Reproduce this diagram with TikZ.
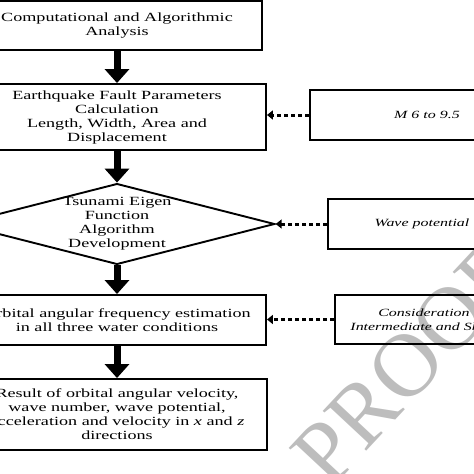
\documentclass[tikz,border=0pt]{standalone}
\usepackage{fontspec}
\setmainfont{Liberation Serif}[FakeStretch=1.45]
\newfontfamily\wmfont{Liberation Serif}
\usetikzlibrary{arrows.meta,shapes.geometric}

\begin{document}
\begin{tikzpicture}[x=1pt, y=-1pt,
        box/.style={draw, line width=1.9pt, align=center, inner sep=0pt, font=\fontsize{12.5}{14}\selectfont},
        sidebox/.style={draw, line width=1.9pt, align=center, inner sep=0pt, font=\fontsize{11}{13.5}\selectfont\itshape},
        bigarrow/.style={line width=7pt, -{Triangle[width=24pt, length=14pt]}},
        dotarrow/.style={line width=3pt, dash pattern=on 4pt off 3pt, -{Triangle[width=9pt, length=6pt]}}]
    \clip (0,0) rectangle (474,474);
    % main column
    \node[box, minimum width=290pt, minimum height=49pt] (comp) at (117,25.5) {Computational and Algorithmic\\Analysis};
    \node[box, minimum width=298pt, minimum height=66pt] (fault) at (117,117) {Earthquake Fault Parameters\\Calculation\\Length, Width, Area and\\Displacement};
    \node[box, shape=diamond, aspect=3.9, minimum width=312pt, minimum height=80pt] (eigen) at (117,224) {Tsunami Eigen\\Function\\Algorithm\\Development};
    \node[box, minimum width=298pt, minimum height=50pt] (orbit) at (117,320) {Orbital angular frequency estimation\\in all three water conditions};
    \node[box, minimum width=300pt, minimum height=71pt] (result) at (117,414.5) {Result of orbital angular velocity,\\wave number, wave potential,\\acceleration and velocity in \textit{x} and \textit{z}\\directions};
    % side inputs
    \node[sidebox, minimum width=234pt, minimum height=50pt] (mag) at (427,115) {M 6 to 9.5};
    \node[sidebox, minimum width=188pt, minimum height=50pt] (wave) at (422,224) {Wave potential};
    \node[sidebox, minimum width=236pt, minimum height=49pt] (cons) at (453,319.5) {Consideration of Deep,\\Intermediate and Shallow water};
    \draw[bigarrow] (comp) -- (fault);
    \draw[bigarrow] (fault) -- (eigen);
    \draw[bigarrow] (eigen) -- (orbit);
    \draw[bigarrow] (orbit) -- (result);
    \draw[dotarrow] (mag.west) -- (mag.west -| fault.east);
    \draw[dotarrow] (wave.west) -- (eigen.east);
    \draw[dotarrow] (cons.west) -- (cons.west -| orbit.east);
    % watermark
    \node[rotate=47, text=black, opacity=.26, inner sep=0pt, font=\wmfont\fontsize{90}{90}\selectfont] (proof) at (408,364) {PROOF};
\end{tikzpicture}
\end{document}
